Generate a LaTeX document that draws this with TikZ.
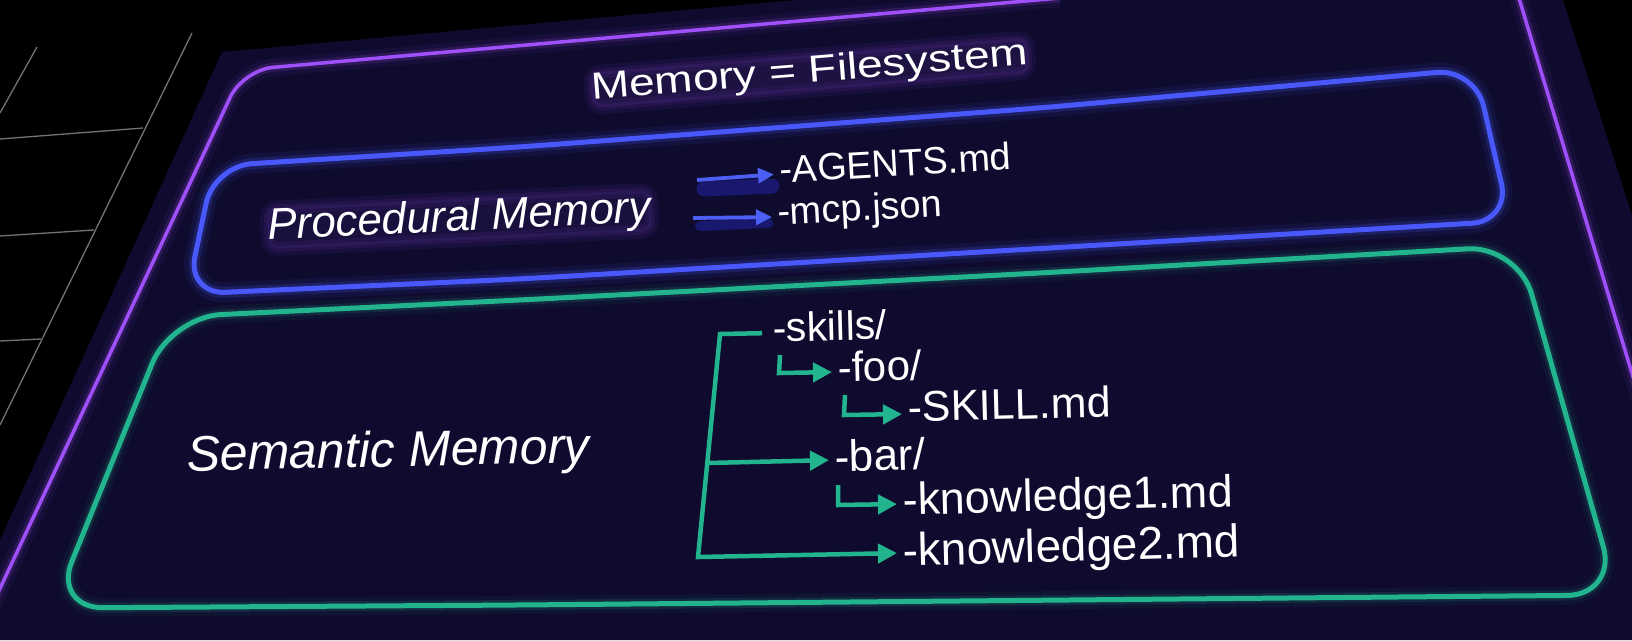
\documentclass[tikz,border=0pt]{standalone}
\usepackage{fontspec}
\setmainfont{Liberation Sans}
\usetikzlibrary{arrows.meta,calc}
\definecolor{navyC}{RGB}{15,11,46}
\definecolor{purpleC}{RGB}{160,80,250}
\definecolor{blueC}{RGB}{72,88,250}
\definecolor{greenC}{RGB}{34,180,142}
\definecolor{grayC}{RGB}{115,115,115}
\definecolor{arrowB}{RGB}{75,95,245}
\definecolor{shadowB}{RGB}{35,35,165}
\pgfdeclarelayer{bg}
\pgfdeclarelayer{glow}
\pgfsetlayers{bg,glow,main}
\begin{document}
\begin{tikzpicture}[x=1pt,y=-1pt,
 txt/.style={text=white, inner sep=0pt, anchor=base west},
 treetxt/.style={txt, rotate=1.5},
 grayline/.style={draw=grayC, line width=1.3pt},
 purpleneon/.style={draw=purpleC, line width=3.5pt, line join=round,
   preaction={draw=purpleC, line width=18pt, draw opacity=0.06},
   preaction={draw=purpleC, line width=9pt, draw opacity=0.16}},
 blueneon/.style={draw=blueC, line width=5pt, line join=round,
   preaction={draw=blueC, line width=20pt, draw opacity=0.08},
   preaction={draw=blueC, line width=11pt, draw opacity=0.2}},
 greenneon/.style={draw=greenC, line width=5pt, line join=round,
   preaction={draw=greenC, line width=18pt, draw opacity=0.06},
   preaction={draw=greenC, line width=10pt, draw opacity=0.15}},
 treeline/.style={draw=greenC, line width=4.5pt, line join=miter},
 treearrow/.style={treeline, -{Triangle[length=19pt,width=19pt]}, shorten >=6pt},
 bluearrow/.style={draw=arrowB, line width=3.8pt, -{Triangle[length=16pt,width=15pt]}, shorten >=6pt},
 bshadow/.style={draw=shadowB, line cap=round, draw opacity=0.55},
 halo/.style={fill=purpleC, fill opacity=0.10, draw=purpleC, draw opacity=0.07, line width=14pt, line join=round, rounded corners=10pt,
   preaction={draw=purpleC, draw opacity=0.08, line width=6pt}}
]
\useasboundingbox (0,0) rectangle (1632,640);

% ---------- texts ----------
\node[txt, rotate=4.6, yscale=0.82, font=\fontsize{46pt}{46pt}\selectfont] (title) at (592,100) {Memory = Filesystem};
\node[txt, rotate=2.7, font=\itshape\fontsize{44pt}{44pt}\selectfont] (proc) at (268,240) {Procedural Memory};
\node[txt, rotate=3.3, font=\fontsize{38pt}{38pt}\selectfont] (agents) at (780,183) {-AGENTS.md};
\node[txt, rotate=3.0, font=\fontsize{38pt}{38pt}\selectfont] (mcp) at (778,225) {-mcp.json};
\node[txt, rotate=1.2, font=\itshape\fontsize{50pt}{50pt}\selectfont] (sem) at (187,471) {Semantic Memory};
\node[treetxt, font=\fontsize{41pt}{41pt}\selectfont] (skills) at (773,342) {-skills/};
\node[treetxt, font=\fontsize{42pt}{42pt}\selectfont] (foo) at (838,382) {-foo/};
\node[treetxt, font=\fontsize{43pt}{43pt}\selectfont] (skill) at (908,422) {-SKILL.md};
\node[treetxt, font=\fontsize{44pt}{44pt}\selectfont] (bar) at (835,472) {-bar/};
\node[treetxt, font=\fontsize{45pt}{45pt}\selectfont] (kone) at (903,515) {-knowledge1.md};
\node[treetxt, font=\fontsize{46pt}{46pt}\selectfont] (ktwo) at (903,566) {-knowledge2.md};

% ---------- background layer ----------
\begin{pgfonlayer}{bg}
\fill[black] (0,0) rectangle (1632,640);
\fill[navyC] (222,52) -- (796,0) -- (1563,0) -- (1632,215) -- (1632,640) -- (0,640) -- (0,540) -- cycle;
\draw[grayline] (192,33) -- (0,425);
\draw[grayline] (37,47) -- (0,113);
\draw[grayline] (0,139) -- (143,128);
\draw[grayline] (0,236) -- (94,230);
\draw[grayline] (0,341) -- (41,339);
% outer purple frame
\draw[purpleneon, rounded corners=30pt] (-12,614) -- (243,70) -- (1060,-2);
\draw[purpleneon] (1515,-15) -- (1640,400);
% blue box
\draw[blueneon, rounded corners=38pt] (367,156.5) -- (520,147) -- (1040,108) -- (1475,69) -- (1510,221) -- (520,279) -- (187,294) -- (214,166) -- cycle;
% green box
\draw[greenneon, rounded corners=50pt] (345,308.5) -- (520,300) -- (1040,273) -- (1518,246) -- (1617,595) -- (520,605) -- (53,608) -- (171,317) -- cycle;
\end{pgfonlayer}

% ---------- glow layer ----------
\begin{pgfonlayer}{glow}
\path[halo] (title.south west) -- (title.south east) -- (title.north east) -- (title.north west) -- cycle;
\path[halo, fill opacity=0.08] (proc.south west) -- (proc.south east) -- (proc.north east) -- (proc.north west) -- cycle;
\coordinate (sh1a) at (704,189);
\coordinate (sh1b) at (772,186);
\coordinate (sh2a) at (700,226);
\coordinate (sh2b) at (768,223);
\draw[bshadow, line width=15pt] (sh1a) -- (sh1b);
\draw[bshadow, line width=10pt] (sh2a) -- (sh2b);
\end{pgfonlayer}

% ---------- blue arrows ----------
\coordinate (a1) at (697,180);
\coordinate (a2) at (693,218);
\draw[bluearrow] (a1) -- ($(agents.base west)+(0,-9)$);
\draw[bluearrow] (a2) -- ($(mcp.base west)+(0,-8)$);

% ---------- tree ----------
\coordinate (tA) at (720,334);
\coordinate (tB) at (698,557);
\coordinate (tC) at (707,463);
\coordinate (fA) at (780,355);
\coordinate (fB) at (779,373);
\coordinate (sA) at (845,395);
\coordinate (sB) at (844,415);
\coordinate (kA) at (838,485);
\coordinate (kB) at (838,505);
\draw[treearrow, shorten <=11pt] ($(skills.base west)+(0,-9)$) -- (tA) -- (tB) -- ($(ktwo.base west)+(0,-13)$);
\draw[treearrow] (tC) -- ($(bar.base west)+(0,-12)$);
\draw[treearrow] (fA) -- (fB) -- ($(foo.base west)+(0,-10)$);
\draw[treearrow] (sA) -- (sB) -- ($(skill.base west)+(0,-8)$);
\draw[treearrow] (kA) -- (kB) -- ($(kone.base west)+(0,-11)$);
\end{tikzpicture}
\end{document}
